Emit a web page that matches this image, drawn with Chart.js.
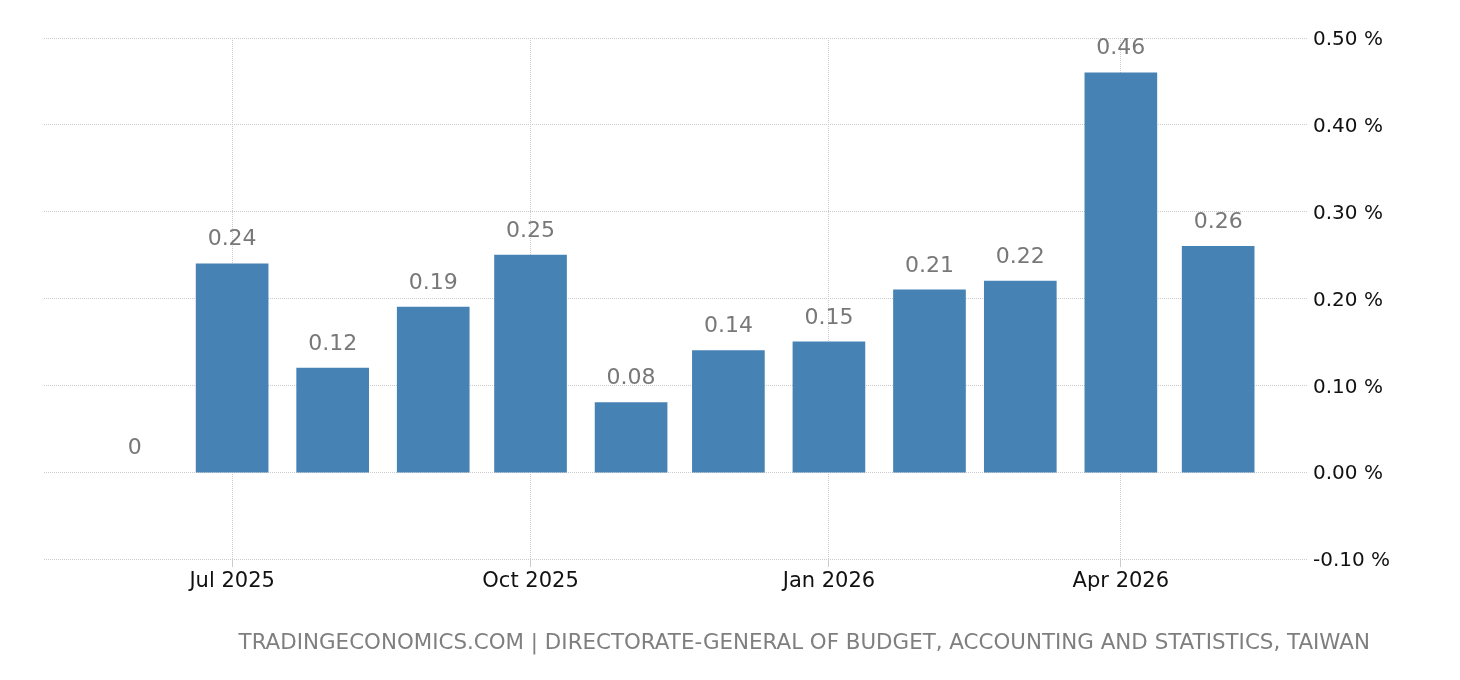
<!DOCTYPE html>
<html>
<head>
<meta charset="utf-8">
<script src="https://cdn.jsdelivr.net/npm/chart.js@4.4.1/dist/chart.umd.min.js"></script>
<style>
  body { margin: 0; background: #fff; }
  #wrap { position: relative; width: 1460px; height: 680px; }
  #source {
    position: absolute; right: 90px; top: 629px;
    font: 21.4px "DejaVu Sans", sans-serif; color: #7f7f7f; white-space: nowrap;
  }
</style>
</head>
<body>
<div id="wrap">
  <canvas id="chart" width="1460" height="680"></canvas>
  <div id="source">TRADINGECONOMICS.COM | DIRECTORATE-GENERAL OF BUDGET, ACCOUNTING AND STATISTICS, TAIWAN</div>
</div>
<script>
  // monthly change, %
  const months = ["2025-06", "2025-07", "2025-08", "2025-09", "2025-10", "2025-11",
                  "2025-12", "2026-01", "2026-02", "2026-03", "2026-04", "2026-05"];
  const values = [0, 0.24, 0.12, 0.19, 0.25, 0.08, 0.14, 0.15, 0.21, 0.22, 0.46, 0.26];
  const tickMonths = ["2025-07", "2025-10", "2026-01", "2026-04"];
  const tickLabels = ["Jul 2025", "Oct 2025", "Jan 2026", "Apr 2026"];

  const dayOf = (ym) => {
    const [y, m] = ym.split("-").map(Number);
    return Date.UTC(y, m - 1, 1) / 86400000;
  };

  const points = months.map((m, i) => ({ x: dayOf(m), y: values[i] }));
  const tickDays = tickMonths.map(dayOf);

  const barLabels = {
    id: "barLabels",
    afterDatasetsDraw(chart) {
      const ctx = chart.ctx;
      ctx.save();
      ctx.font = "22px 'DejaVu Sans', sans-serif";
      ctx.fillStyle = "#787878";
      ctx.textAlign = "center";
      ctx.textBaseline = "middle";
      chart.getDatasetMeta(0).data.forEach((bar, i) => {
        const v = values[i];
        ctx.fillText(v === 0 ? "0" : v.toFixed(2), bar.x, bar.y - 24);
      });
      ctx.restore();
    },
  };

  new Chart(document.querySelector("#chart"), {
    type: "bar",
    data: {
      datasets: [{
        data: points,
        backgroundColor: values.map((v) => (v === 0 ? "rgba(0,0,0,0)" : "#4682b4")),
        barThickness: 72,
      }],
    },
    options: {
      responsive: false,
      animation: false,
      devicePixelRatio: 1,
      layout: { padding: { left: 44, top: 38, right: 0, bottom: 0 } },
      plugins: { legend: { display: false }, tooltip: { enabled: false } },
      scales: {
        x: {
          type: "linear",
          offset: false,
          min: dayOf("2025-06") - 28,
          max: dayOf("2026-05") + 27.7,
          afterBuildTicks: (scale) => { scale.ticks = tickDays.map((v) => ({ value: v })); },
          afterFit: (scale) => { scale.height = 121; },
          grid: { color: "#cccccc", tickLength: 8, drawTicks: true, offset: false },
          border: { display: false, dash: [1, 1] },
          ticks: {
            color: "#111",
            font: { family: "'DejaVu Sans', sans-serif", size: 21 },
            padding: 2,
            maxRotation: 0,
            callback: (v) => tickLabels[tickDays.indexOf(v)] ?? "",
          },
        },
        y: {
          position: "right",
          min: -0.1,
          max: 0.5,
          afterFit: (scale) => { scale.width = 152; },
          grid: { color: "#cccccc", drawTicks: false },
          border: { display: false, dash: [1, 1] },
          ticks: {
            stepSize: 0.1,
            color: "#111",
            font: { family: "'DejaVu Sans', sans-serif", size: 20 },
            padding: 5,
            labelOffset: 2,
            callback: (v) => `${(Math.abs(v) < 1e-9 ? 0 : v).toFixed(2)} %`,
          },
        },
      },
    },
    plugins: [barLabels],
  });
</script>
</body>
</html>
